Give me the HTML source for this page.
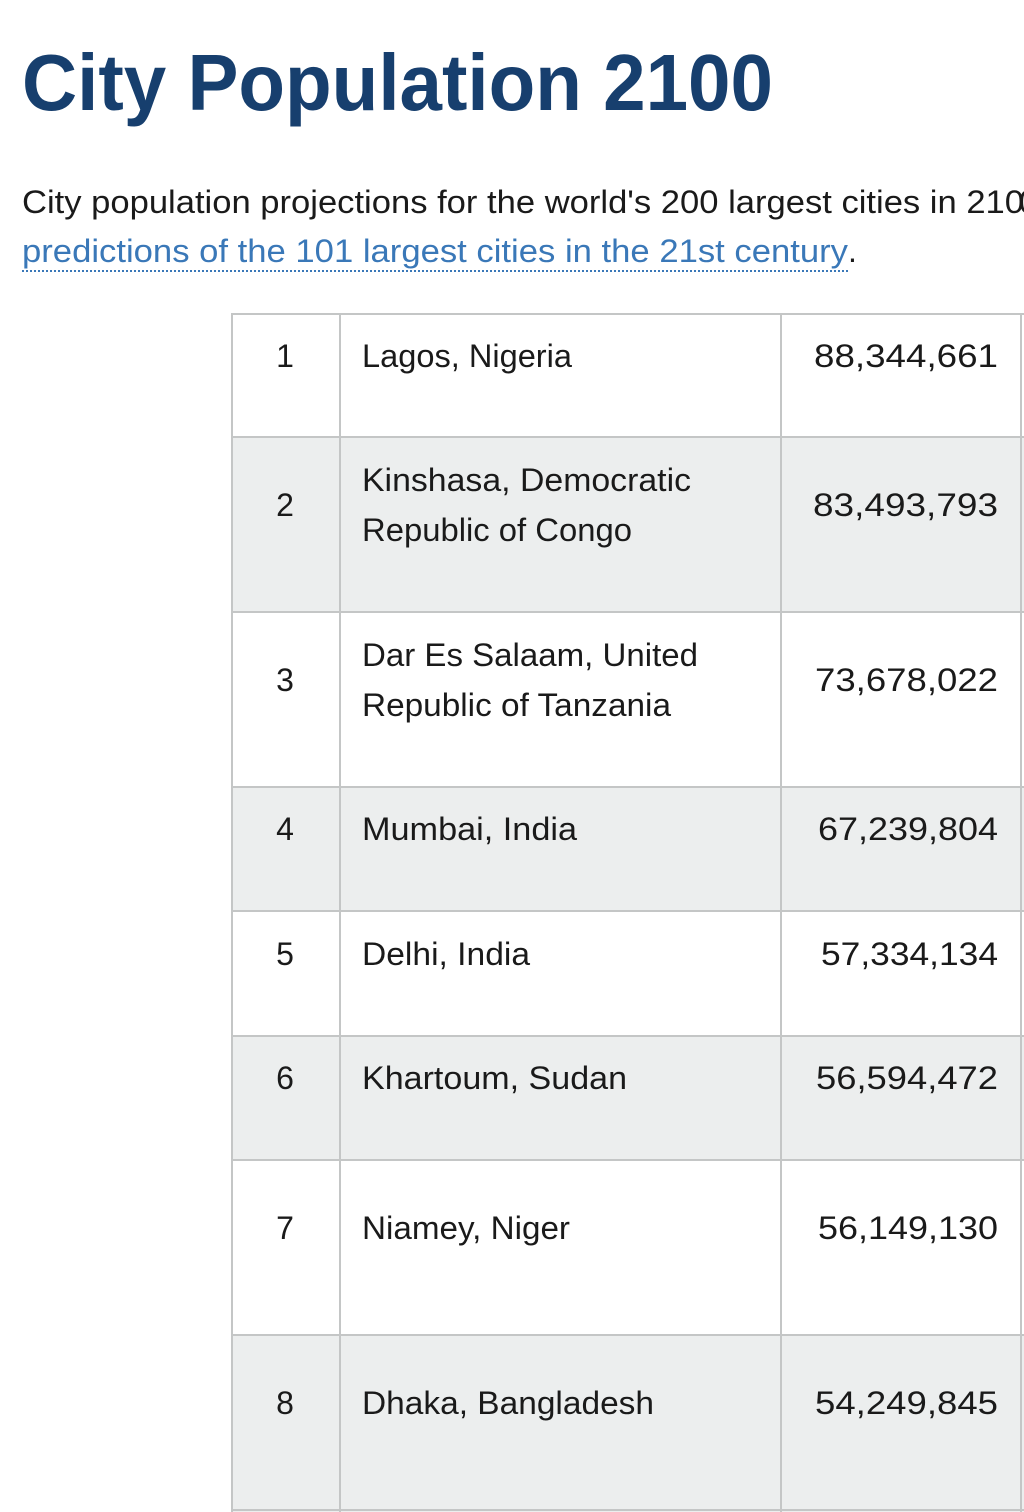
<!DOCTYPE html>
<html><head><meta charset="utf-8"><style>
html,body{margin:0;padding:0;background:#fff;width:1024px;height:1512px;overflow:hidden}
</style></head><body>
<svg width="1024" height="1512" xmlns="http://www.w3.org/2000/svg" font-family="Liberation Sans, sans-serif">
<text x="22" y="110" font-size="80" font-weight="bold" fill="#173f6e" textLength="751" lengthAdjust="spacingAndGlyphs">City Population 2100</text>
<text x="22" y="213" font-size="32" fill="#1a1a1a" textLength="1002" lengthAdjust="spacingAndGlyphs">City population projections for the world's 200 largest cities in 210</text>
<text x="1019" y="213" font-size="32" fill="#1a1a1a">0</text>
<text x="22" y="262" font-size="32" fill="#3a78b8" textLength="826" lengthAdjust="spacingAndGlyphs">predictions of the 101 largest cities in the 21st century</text>
<text x="848" y="262" font-size="32" fill="#1a1a1a">.</text>
<line x1="22" y1="271" x2="848" y2="271" stroke="#3a78b8" stroke-width="2" stroke-dasharray="2,2"/>
<g>
<rect x="231" y="437" width="793" height="175" fill="#eceeee"/>
<rect x="231" y="787" width="793" height="124" fill="#eceeee"/>
<rect x="231" y="1036" width="793" height="124" fill="#eceeee"/>
<rect x="231" y="1335" width="793" height="177" fill="#eceeee"/>
</g>
<g stroke="#c4c6c6" stroke-width="2">
<line x1="231" y1="314" x2="1024" y2="314"/>
<line x1="231" y1="437" x2="1024" y2="437"/>
<line x1="231" y1="612" x2="1024" y2="612"/>
<line x1="231" y1="787" x2="1024" y2="787"/>
<line x1="231" y1="911" x2="1024" y2="911"/>
<line x1="231" y1="1036" x2="1024" y2="1036"/>
<line x1="231" y1="1160" x2="1024" y2="1160"/>
<line x1="231" y1="1335" x2="1024" y2="1335"/>
<line x1="231" y1="1510" x2="1024" y2="1510"/>
<line x1="232" y1="314" x2="232" y2="1512"/>
<line x1="340" y1="314" x2="340" y2="1512"/>
<line x1="781" y1="314" x2="781" y2="1512"/>
<line x1="1021" y1="314" x2="1021" y2="1512"/>
</g>
<g font-size="32" fill="#1a1a1a" lengthAdjust="spacingAndGlyphs">
<g text-anchor="middle">
<text x="285" y="367">1</text>
<text x="285" y="516">2</text>
<text x="285" y="691">3</text>
<text x="285" y="840">4</text>
<text x="285" y="965">5</text>
<text x="285" y="1089">6</text>
<text x="285" y="1239">7</text>
<text x="285" y="1414">8</text>
</g>
<text x="362" y="367" textLength="210" lengthAdjust="spacingAndGlyphs">Lagos, Nigeria</text>
<text x="362" y="491" textLength="329" lengthAdjust="spacingAndGlyphs">Kinshasa, Democratic</text>
<text x="362" y="541" textLength="270" lengthAdjust="spacingAndGlyphs">Republic of Congo</text>
<text x="362" y="666" textLength="336" lengthAdjust="spacingAndGlyphs">Dar Es Salaam, United</text>
<text x="362" y="716" textLength="309" lengthAdjust="spacingAndGlyphs">Republic of Tanzania</text>
<text x="362" y="840" textLength="215" lengthAdjust="spacingAndGlyphs">Mumbai, India</text>
<text x="362" y="965" textLength="168" lengthAdjust="spacingAndGlyphs">Delhi, India</text>
<text x="362" y="1089" textLength="265" lengthAdjust="spacingAndGlyphs">Khartoum, Sudan</text>
<text x="362" y="1239" textLength="208" lengthAdjust="spacingAndGlyphs">Niamey, Niger</text>
<text x="362" y="1414" textLength="292" lengthAdjust="spacingAndGlyphs">Dhaka, Bangladesh</text>
<text x="814" y="367" textLength="184" lengthAdjust="spacingAndGlyphs">88,344,661</text>
<text x="813" y="516" textLength="185" lengthAdjust="spacingAndGlyphs">83,493,793</text>
<text x="815" y="691" textLength="183" lengthAdjust="spacingAndGlyphs">73,678,022</text>
<text x="818" y="840" textLength="180" lengthAdjust="spacingAndGlyphs">67,239,804</text>
<text x="821" y="965" textLength="177" lengthAdjust="spacingAndGlyphs">57,334,134</text>
<text x="816" y="1089" textLength="182" lengthAdjust="spacingAndGlyphs">56,594,472</text>
<text x="818" y="1239" textLength="180" lengthAdjust="spacingAndGlyphs">56,149,130</text>
<text x="815" y="1414" textLength="183" lengthAdjust="spacingAndGlyphs">54,249,845</text>
</g>
</svg>
</body></html>
